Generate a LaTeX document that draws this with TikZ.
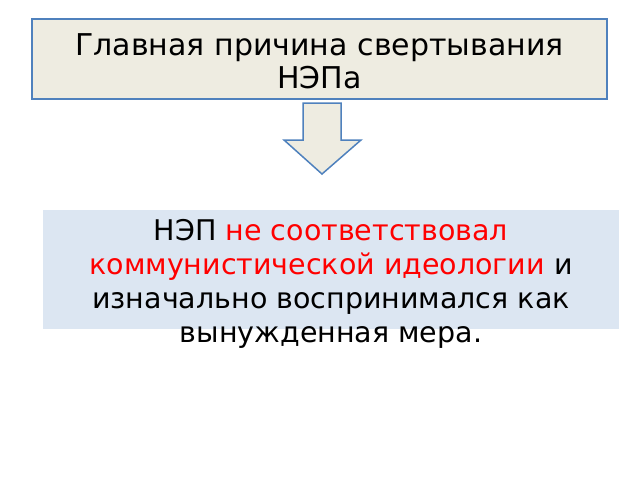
\documentclass[tikz,border=0pt]{standalone}
\usepackage{fontspec}
\setmainfont{DejaVu Sans}
\definecolor{topfill}{HTML}{EEECE1}
\definecolor{bluebord}{HTML}{4F81BD}
\definecolor{lowfill}{HTML}{DCE6F2}
\definecolor{redtxt}{HTML}{FF0000}
\tikzset{
  topbox/.style={draw=bluebord, fill=topfill, line width=1.5pt},
  arrowshape/.style={draw=bluebord, fill=topfill, line width=1.5pt, line join=miter},
  lowbox/.style={fill=lowfill},
  toptxt/.style={font=\fontsize{30}{33}\selectfont, align=center, inner sep=0pt},
  lowtxt/.style={font=\fontsize{28.5}{34}\selectfont, align=center, inner sep=0pt}
}
\begin{document}
\begin{tikzpicture}[x=1pt,y=-1pt]
\useasboundingbox (0,0) rectangle (640,480);
\draw[topbox] (32,19) rectangle (607,99);
\node[toptxt, anchor=center] (t1) at (319.5,61) {Главная причина свертывания\\НЭПа};
\draw[arrowshape] (303,103) -- (341,103) -- (341,140) -- (361,140) -- (322,174) -- (284,140) -- (303,140) -- cycle;
\fill[lowbox] (43,210) rectangle (619,329);
\node[lowtxt, anchor=center] (t2) at (331,284) {НЭП \textcolor{redtxt}{не соответствовал}\\\textcolor{redtxt}{коммунистической идеологии} и\\изначально воспринимался как\\вынужденная мера.};
\end{tikzpicture}
\end{document}
